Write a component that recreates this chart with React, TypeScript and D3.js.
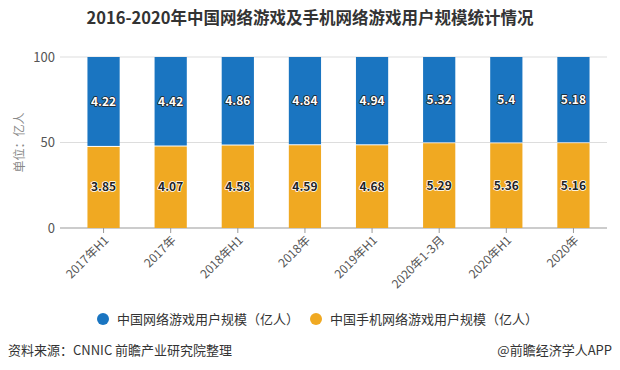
import * as d3 from "d3";

const categories = ["2017年H1", "2017年", "2018年H1", "2018年", "2019年H1", "2020年1-3月", "2020年H1", "2020年"];
const onlineUsers = [4.22, 4.42, 4.86, 4.84, 4.94, 5.32, 5.4, 5.18];
const mobileUsers = [3.85, 4.07, 4.58, 4.59, 4.68, 5.29, 5.36, 5.16];
const yTicks = [0, 50, 100];

const BLUE = "#1a75c1";
const ORANGE = "#f0a922";
const FONT = "'Noto Sans CJK SC', 'Noto Sans', sans-serif";

export default function App() {
  const width = 620;
  const height = 370;

  const x = d3.scaleBand().domain(categories).range([70, 607]).paddingInner(0.52).paddingOuter(0.26);
  const y = d3.scaleLinear().domain([0, 100]).range([228, 57]);

  const rows = categories.map((c, i) => {
    const total = onlineUsers[i] + mobileUsers[i];
    const split = (mobileUsers[i] / total) * 100;
    return { c, online: onlineUsers[i], mobile: mobileUsers[i], split };
  });

  return (
    <svg width={width} height={height} style={{ position: "absolute", left: 0, top: 0, background: "#fff" }} fontFamily={FONT}>
      <text x={310} y={24} textAnchor="middle" fontSize={16.5} fontWeight="bold" fill="#333">
        2016-2020年中国网络游戏及手机网络游戏用户规模统计情况
      </text>

      {yTicks.map((t) => (
        <g key={t}>
          <line x1={60} x2={607} y1={y(t)} y2={y(t)} stroke={t === 0 ? "#999" : "#ddd"} />
          <text x={55} y={y(t)} dy="0.35em" textAnchor="end" fontSize={13} fill="#555">
            {t}
          </text>
        </g>
      ))}
      <text transform={`translate(20,${y(50)}) rotate(-90)`} textAnchor="middle" dy="0.35em" fontSize={12} fill="#888">
        单位：亿人
      </text>

      {rows.map((r) => {
        const x0 = x(r.c)!;
        const bw = x.bandwidth();
        const cx = x0 + bw / 2;
        return (
          <g key={r.c}>
            <rect x={x0} y={y(100)} width={bw} height={y(r.split) - y(100) - 0.5} fill={BLUE} />
            <rect x={x0} y={y(r.split) + 0.5} width={bw} height={y(0) - y(r.split) - 0.5} fill={ORANGE} />
            <text x={cx} y={(y(100) + y(r.split)) / 2} dy="0.35em" textAnchor="middle" fontSize={12} fontWeight="bold"
              fill="#fff" stroke="#222" strokeWidth={1.6} paintOrder="stroke" strokeLinejoin="round">
              {r.online}
            </text>
            <text x={cx} y={(y(r.split) + y(0)) / 2} dy="0.35em" textAnchor="middle" fontSize={12} fontWeight="bold"
              fill="#222" stroke="#fff" strokeWidth={1.6} paintOrder="stroke" strokeLinejoin="round">
              {r.mobile}
            </text>
            <line x1={cx} x2={cx} y1={y(0)} y2={y(0) + 5} stroke="#999" />
            <text transform={`translate(${cx + 3},${y(0) + 10}) rotate(-45)`} textAnchor="end" dy="0.35em" fontSize={12} fill="#555">
              {r.c}
            </text>
          </g>
        );
      })}

      <circle cx={103} cy={319} r={6} fill={BLUE} />
      <text x={117} y={319} dy="0.35em" fontSize={13} fill="#333">中国网络游戏用户规模（亿人）</text>
      <circle cx={316} cy={319} r={6} fill={ORANGE} />
      <text x={330} y={319} dy="0.35em" fontSize={13} fill="#333">中国手机网络游戏用户规模（亿人）</text>

      <text x={8} y={350} dy="0.35em" fontSize={13} fill="#333">资料来源：CNNIC 前瞻产业研究院整理</text>
      <text x={612} y={350} dy="0.35em" textAnchor="end" fontSize={13} fill="#333">@前瞻经济学人APP</text>
    </svg>
  );
}
